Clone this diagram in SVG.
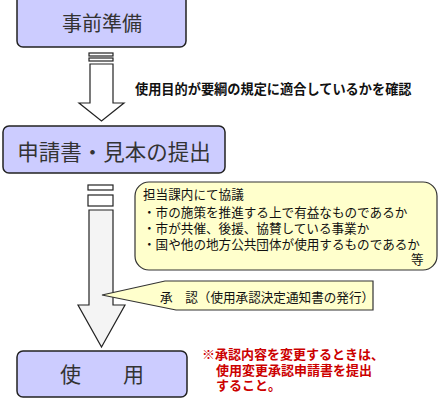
<svg xmlns="http://www.w3.org/2000/svg" width="439" height="412" viewBox="0 0 439 412">
<style>
.box{fill:#ccccff;stroke:#222;stroke-width:1.5}
.btxt{font-family:"Noto Sans CJK JP","Noto Sans",sans-serif;font-size:21px;fill:#333;text-anchor:middle;dominant-baseline:central}
.arr{fill:#fff;stroke:#222;stroke-width:1.2}
.note{font-family:"Noto Sans CJK JP",sans-serif;font-size:12.6px;fill:#111;dominant-baseline:central}
.red{font-family:"Noto Sans CJK JP",sans-serif;font-size:13px;fill:#cc0000;font-weight:bold;dominant-baseline:central}
</style>
<rect width="439" height="412" fill="#fff"/>
<g id="connectors">
  <g id="arrow1">
    <rect class="arr" x="89" y="53" width="24" height="3"/>
    <rect class="arr" x="89" y="58" width="24" height="3"/>
    <path class="arr" d="M90,64 L113,64 L113,103 L124,103 L101.5,121 L79,103 L90,103 Z"/>
  </g>
  <g id="arrow2">
    <rect class="arr" x="88" y="185" width="25" height="5"/>
    <rect class="arr" x="88" y="195" width="25" height="11"/>
    <path class="arr" d="M89,210 L113,210 L113,305 L125,305 L101.5,347 L78,305 L89,305 Z" style="fill:#f4f4f4"/>
  </g>
</g>
<g id="n1">
  <rect class="box" x="17" y="-6" width="169" height="53" rx="6"/>
  <text class="btxt" x="102" y="22" style="font-size:20px">事前準備</text>
</g>
<g id="t1">
  <text class="note" x="135" y="88" font-weight="bold" style="font-size:13.2px">使用目的が要綱の規定に適合しているかを確認</text>
</g>
<g id="n2">
  <rect class="box" x="3" y="126" width="222" height="47" rx="6"/>
  <text class="btxt" x="114" y="150" style="font-size:21.5px">申請書・見本の提出</text>
</g>
<g id="n3">
  <rect x="135" y="182" width="302" height="88" rx="14" fill="#ffffcc" stroke="#333" stroke-width="1.2"/>
  <text class="note"><tspan x="143" y="193">担当課内にて協議</tspan><tspan x="143" y="211">・市の施策を推進する上で有益なものであるか</tspan><tspan x="143" y="227">・市が共催、後援、協賛している事業か</tspan><tspan x="143" y="243">・国や他の地方公共団体が使用するものであるか</tspan><tspan x="411" y="258">等</tspan></text>
</g>
<g id="n4">
  <path d="M102,295 L165,281 L373,281 L373,310 L176,310 Z" fill="#ffffcc" stroke="#333" stroke-width="1.2"/>
  <text class="note" x="160" y="296">承　認（使用承認決定通知書の発行）</text>
</g>
<g id="n5">
  <rect class="box" x="17" y="351" width="170" height="46" rx="6"/>
  <text class="btxt" x="102" y="373" style="font-size:21px">使　　用</text>
</g>
<g id="t2">
  <text class="red"><tspan x="202" y="353">※承認内容を変更するときは、</tspan><tspan x="216" y="369">使用変更承認申請書を提出</tspan><tspan x="216" y="384">すること。</tspan></text>
</g>
</svg>
